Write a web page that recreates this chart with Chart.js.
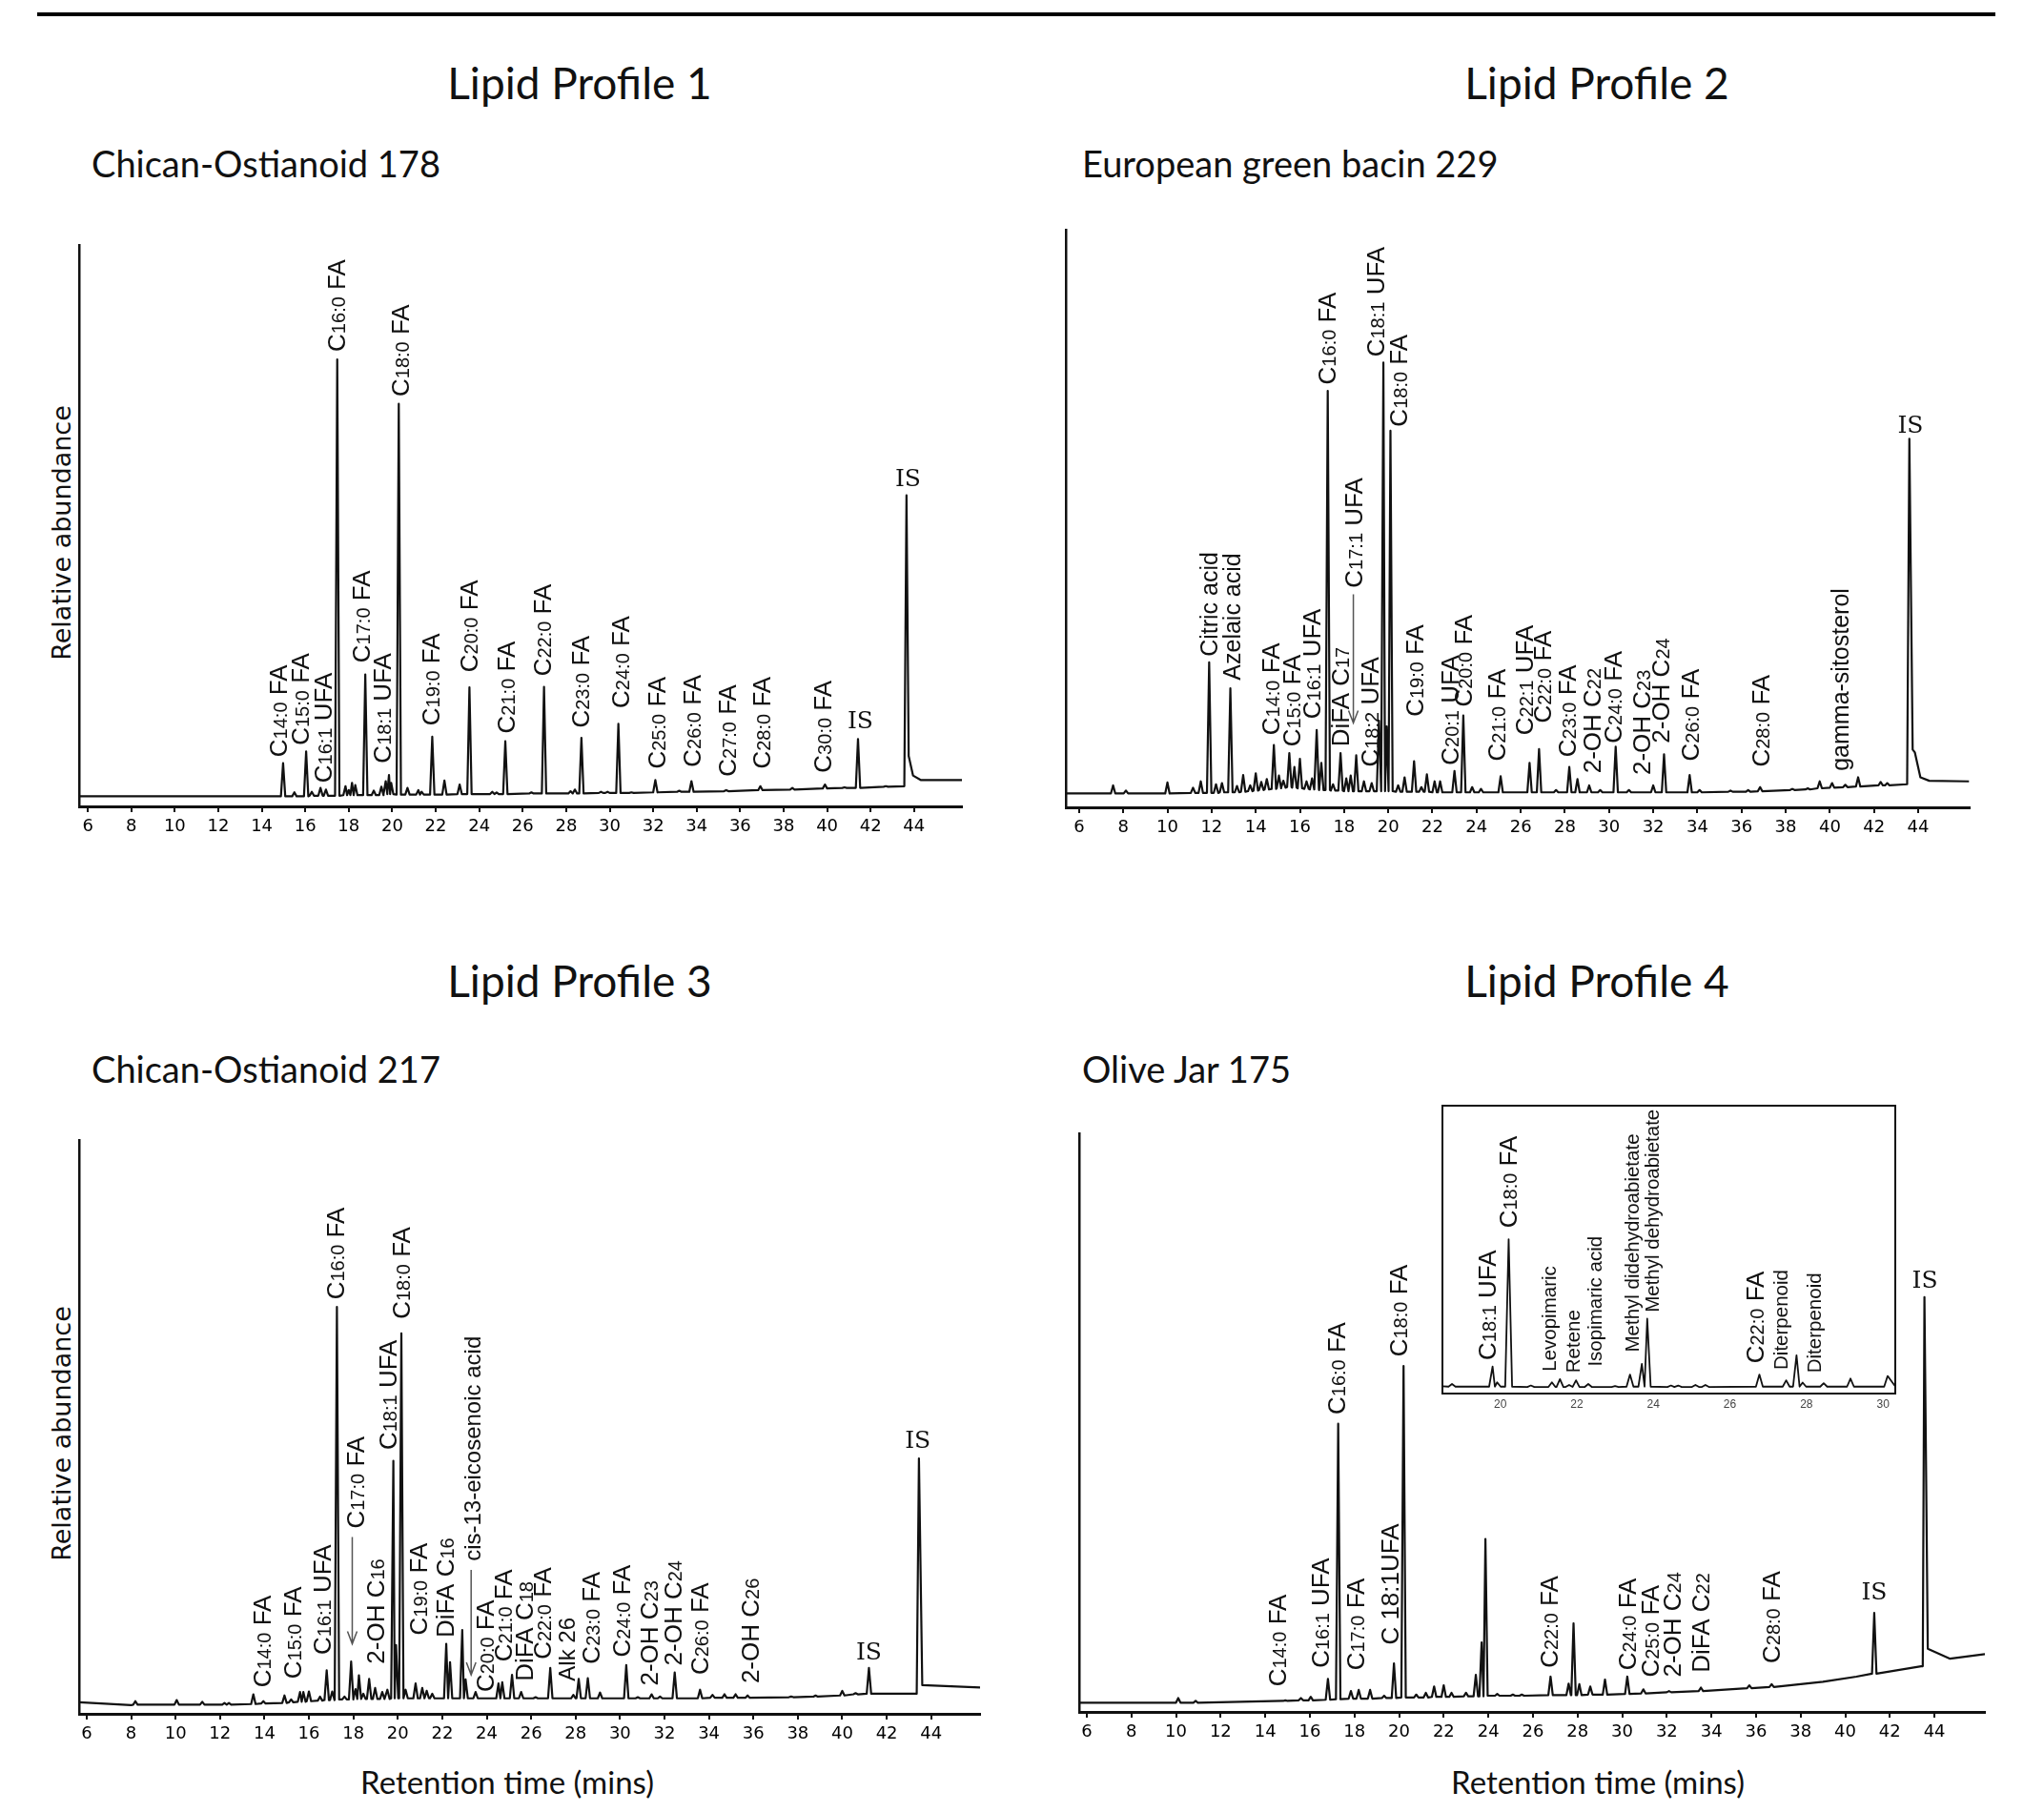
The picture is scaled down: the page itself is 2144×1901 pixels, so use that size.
<!DOCTYPE html>
<html>
<head>
<meta charset="utf-8">
<script src="https://cdn.jsdelivr.net/npm/chart.js@4.4.1/dist/chart.umd.min.js"></script>
<style>
body { margin: 0; background: #fff; }
#page { position: relative; width: 2144px; height: 1901px; background: #fff; overflow: hidden; color: #111; }
.t { position: absolute; white-space: nowrap; line-height: 1; }
.title { font: 46px Lato, sans-serif; transform: translate(-50%, -50%); }
.sub { font: 38px Lato, sans-serif; transform: translateY(-50%); }
.xt { font: 33px Lato, sans-serif; transform: translate(-50%, -50%); }
.yt { font: 27px "DejaVu Sans", sans-serif; transform: translate(-50%, -50%) rotate(-90deg); }
canvas { position: absolute; }
</style>
</head>
<body>
<div id="page">
  <div style="position:absolute;left:39px;top:13px;width:2054px;height:4px;background:#000"></div>
  <div class="t title" style="left:608px;top:86px">Lipid Profile 1</div>
  <div class="t title" style="left:1675px;top:86px">Lipid Profile 2</div>
  <div class="t title" style="left:608px;top:1028px">Lipid Profile 3</div>
  <div class="t title" style="left:1675px;top:1028px">Lipid Profile 4</div>
  <div class="t sub" style="left:96px;top:171px">Chican-Ostianoid 178</div>
  <div class="t sub" style="left:1135px;top:171px">European green bacin 229</div>
  <div class="t sub" style="left:96px;top:1121px">Chican-Ostianoid 217</div>
  <div class="t sub" style="left:1135px;top:1121px">Olive Jar 175</div>
  <div class="t yt" style="left:64px;top:559px">Relative abundance</div>
  <div class="t yt" style="left:64px;top:1504px">Relative abundance</div>
  <div class="t xt" style="left:532px;top:1869px">Retention time (mins)</div>
  <div class="t xt" style="left:1676px;top:1869px">Retention time (mins)</div>
</div>
<script>
// x axis tick labels
const mainTicks = [6, 8, 10, 12, 14, 16, 18, 20, 22, 24, 26, 28, 30, 32, 34, 36, 38, 40, 42, 44];
const insetTicks = [20, 22, 24, 26, 28, 30];

// ---- Lipid Profile 1 : Chican-Ostianoid 178 ----
const p1Time = [5.6, 14.98, 15.5, 16.04, 16.3, 16.7, 16.95, 17.47, 17.85, 18.0, 18.15, 18.3, 18.76, 19.15, 19.5, 19.7, 19.85, 19.95, 20.3, 20.7, 21.2, 21.35, 21.84, 22.4, 23.1, 23.55, 24.6, 24.8, 25.2, 26.4, 26.98, 28.2, 28.4, 28.7, 29.6, 29.9, 30.4, 31.0, 32.1, 33.2, 33.76, 35.36, 36.93, 38.4, 39.9, 40.8, 41.42, 42.7, 43.65, 43.75, 43.95, 44.3, 46.2];
const p1Top = [1.8, 7.7, 2.5, 9.8, 2.6, 3.3, 3.0, 79.6, 3.6, 2.9, 4.2, 3.8, 23.5, 2.8, 3.5, 4.5, 5.6, 4.2, 71.7, 3.3, 2.9, 2.6, 12.4, 4.6, 3.9, 21.2, 2.6, 2.5, 11.6, 2.5, 21.3, 2.7, 3.0, 12.2, 2.6, 2.6, 14.7, 2.5, 4.7, 2.8, 4.5, 2.9, 3.6, 3.3, 3.9, 3.4, 12.0, 3.6, 55.4, 9.0, 5.5, 4.7, 4.7];
const p1Base = [1.8, 1.8, 1.8, 1.8, 1.9, 1.9, 1.9, 1.9, 2.0, 2.0, 2.0, 2.0, 2.0, 2.0, 2.0, 2.2, 2.5, 2.2, 2.1, 2.1, 2.1, 2.1, 2.1, 2.1, 2.2, 2.2, 2.2, 2.2, 2.2, 2.3, 2.3, 2.3, 2.3, 2.3, 2.4, 2.4, 2.4, 2.4, 2.5, 2.6, 2.6, 2.7, 2.9, 3.0, 3.2, 3.3, 3.3, 3.5, 3.6, 9.0, 5.5, 4.7, 4.7];
const p1LabelText = ['C14:0 FA', 'C15:0 FA', 'C16:1 UFA', 'C16:0 FA', 'C17:0 FA', 'C18:1 UFA', 'C18:0 FA', 'C19:0 FA', 'C20:0 FA', 'C21:0 FA', 'C22:0 FA', 'C23:0 FA', 'C24:0 FA', 'C25:0 FA', 'C26:0 FA', 'C27:0 FA', 'C28:0 FA', 'C30:0 FA'];
const p1LabelT = [14.75, 15.76, 16.8, 17.41, 18.56, 19.54, 20.36, 21.76, 23.53, 25.21, 26.89, 28.63, 30.48, 32.14, 33.76, 35.39, 36.99, 39.79];
const p1LabelY = [8.8, 10.9, 4.2, 81, 25.6, 7.7, 73, 14.4, 23.9, 13, 23.2, 14, 17.5, 6.7, 7, 5.3, 6.7, 6];
const p1IsT = [41.53, 43.72];
const p1IsY = [14, 57];

// ---- Lipid Profile 2 : European green bacin 229 ----
const p2Time = [5.4, 7.54, 8.12, 10.0, 11.16, 11.51, 11.89, 12.2, 12.47, 12.85, 13.15, 13.43, 13.75, 14.0, 14.25, 14.5, 14.82, 15.05, 15.25, 15.52, 15.75, 16.0, 16.3, 16.55, 16.76, 16.97, 17.26, 17.5, 17.84, 18.1, 18.3, 18.55, 18.9, 19.25, 19.58, 19.78, 19.93, 20.1, 20.45, 20.74, 21.17, 21.5, 21.75, 22.1, 22.35, 23.0, 23.4, 23.8, 24.2, 25.09, 26.4, 26.83, 27.6, 28.2, 28.57, 29.1, 29.6, 30.3, 30.9, 32.0, 32.49, 33.65, 34.1, 35.5, 36.3, 36.84, 38.3, 39.0, 39.54, 40.1, 40.7, 41.28, 42.3, 42.6, 43.6, 43.75, 43.85, 44.1, 44.5, 46.3];
const p2Top = [2.4, 3.8, 2.9, 4.3, 3.4, 4.5, 25.1, 4.0, 4.2, 20.6, 3.7, 5.6, 3.8, 5.9, 4.4, 4.9, 10.8, 5.5, 4.6, 9.4, 7.0, 8.4, 4.5, 5.0, 13.4, 7.7, 72.1, 4.0, 9.4, 5.0, 5.5, 9.0, 4.5, 4.2, 15.0, 77.0, 14.0, 65.2, 3.8, 5.2, 8.0, 3.5, 5.7, 4.5, 4.5, 6.3, 15.9, 3.5, 3.2, 5.4, 7.7, 10.1, 3.0, 7.0, 4.9, 3.8, 3.0, 10.5, 3.0, 3.8, 9.2, 5.6, 3.0, 2.9, 3.0, 3.5, 3.2, 3.3, 4.5, 4.2, 3.9, 5.2, 4.4, 4.2, 63.8, 10.0, 9.5, 5.2, 4.6, 4.5];
const p2Base = [2.4, 2.4, 2.4, 2.4, 2.5, 2.5, 2.5, 2.5, 2.6, 2.6, 2.6, 2.7, 2.8, 2.9, 3.0, 3.1, 3.2, 3.3, 3.4, 3.5, 3.4, 3.3, 3.2, 3.1, 3.1, 3.0, 3.0, 2.9, 2.9, 2.8, 2.8, 2.8, 2.8, 2.8, 2.8, 2.8, 2.8, 2.8, 2.7, 2.7, 2.7, 2.7, 2.7, 2.6, 2.6, 2.6, 2.6, 2.6, 2.6, 2.6, 2.6, 2.6, 2.6, 2.6, 2.6, 2.6, 2.6, 2.6, 2.6, 2.6, 2.6, 2.6, 2.6, 2.7, 2.7, 2.8, 3.0, 3.1, 3.3, 3.4, 3.5, 3.6, 3.8, 3.8, 4.0, 10.0, 9.5, 5.2, 4.6, 4.5];
const p2LabelText = ['Citric acid', 'Azelaic acid', 'C14:0 FA', 'C15:0 FA', 'C16:1 UFA', 'C16:0 FA', 'DiFA C17', 'C17:1 UFA', 'C18:2 UFA', 'C18:1 UFA', 'C18:0 FA', 'C19:0 FA', 'C20:1 UFA', 'C20:0 FA', 'C21:0 FA', 'C22:1 UFA', 'C22:0 FA', 'C23:0 FA', '2-OH C22', 'C24:0 FA', '2-OH C23', '2-OH C24', 'C26:0 FA', 'C28:0 FA', 'gamma-sitosterol'];
const p2LabelT = [11.89, 12.9, 14.65, 15.6, 16.53, 17.2, 17.84, 18.42, 19.14, 19.43, 20.45, 21.17, 22.77, 23.4, 24.9, 26.16, 26.97, 28.1, 29.2, 30.17, 31.47, 32.34, 33.65, 36.84, 40.46];
const p2LabelY = [26.1, 22, 12.5, 10.5, 15.3, 73.2, 10.5, 38, 7, 78, 65.9, 15.7, 7.3, 17.4, 8, 12.5, 14.6, 8.7, 5.9, 11.1, 5.6, 11.1, 8, 7, 6.3];
const p2IsT = [43.65];
const p2IsY = [64.8];
const p2ArrowT = [18.42];
const p2ArrowFrom = [36.9];
const p2ArrowTo = [14.6];

// ---- Lipid Profile 3 : Chican-Ostianoid 217 ----
const p3Time = [5.66, 8.0, 8.19, 10.05, 11.2, 12.2, 12.4, 13.5, 13.95, 14.9, 15.2, 15.6, 15.75, 16.0, 16.5, 16.8, 17.05, 17.26, 17.6, 17.9, 18.1, 18.25, 18.45, 18.71, 18.98, 19.3, 19.53, 19.8, 19.92, 20.16, 20.35, 20.8, 21.1, 21.3, 21.55, 22.18, 22.35, 22.9, 23.05, 23.5, 24.53, 24.7, 25.14, 25.55, 26.2, 26.86, 27.9, 28.14, 28.55, 29.1, 30.28, 30.8, 31.42, 31.8, 32.46, 33.6, 34.16, 34.7, 35.2, 35.74, 37.7, 38.8, 40.0, 40.6, 41.2, 43.45, 43.6, 46.2];
const p3Top = [2.0, 1.5, 2.2, 2.4, 2.1, 1.9, 1.9, 3.4, 2.2, 3.2, 2.5, 3.8, 3.8, 3.9, 3.0, 7.6, 3.9, 70.9, 3.0, 9.1, 4.3, 6.7, 3.5, 6.1, 4.5, 3.8, 4.2, 44.1, 12.0, 66.3, 4.2, 5.3, 4.5, 4.0, 3.5, 12.2, 9.0, 14.6, 6.0, 3.8, 5.3, 5.5, 6.8, 3.8, 2.9, 8.0, 3.3, 6.1, 6.2, 3.7, 8.5, 2.9, 3.4, 3.0, 7.2, 4.2, 3.3, 3.4, 3.4, 3.2, 3.0, 3.2, 4.0, 3.6, 8.0, 44.5, 5.0, 4.6];
const p3Base = [2.0, 1.5, 1.6, 1.6, 1.6, 1.6, 1.6, 1.7, 1.8, 1.9, 2.0, 2.1, 2.1, 2.2, 2.3, 2.4, 2.4, 2.5, 2.5, 2.5, 2.6, 2.6, 2.6, 2.6, 2.6, 2.6, 2.6, 2.7, 2.7, 2.7, 2.7, 2.7, 2.7, 2.7, 2.7, 2.7, 2.7, 2.7, 2.7, 2.7, 2.7, 2.7, 2.7, 2.7, 2.7, 2.7, 2.7, 2.7, 2.7, 2.7, 2.7, 2.7, 2.7, 2.7, 2.7, 2.7, 2.8, 2.8, 2.8, 2.8, 2.9, 3.0, 3.2, 3.4, 3.5, 3.5, 5.0, 4.6];
const p3LabelText = ['C14:0 FA', 'C15:0 FA', 'C16:1 UFA', 'C16:0 FA', 'C17:0 FA', '2-OH C16', 'C18:1 UFA', 'C18:0 FA', 'C19:0 FA', 'DiFA C16', 'cis-13-eicosenoic acid', 'C20:0 FA', 'C21:0 FA', 'DiFA C18', 'C22:0 FA', 'Alk 26', 'C23:0 FA', 'C24:0 FA', '2-OH C23', '2-OH C24', 'C26:0 FA', '2-OH C26'];
const p3LabelT = [13.87, 15.24, 16.6, 17.2, 18.08, 18.98, 19.53, 20.16, 20.9, 22.13, 23.36, 23.9, 24.73, 25.68, 26.5, 27.6, 28.7, 30.06, 31.29, 32.38, 33.56, 35.85];
const p3LabelY = [4.6, 6.1, 10.3, 72.2, 32.3, 8.7, 46, 68.8, 13.7, 13.3, 26.6, 3.8, 9.1, 5.7, 9.5, 5.7, 8.7, 9.9, 4.9, 8.4, 6.8, 5.3];
const p3IsT = [41.2, 43.4];
const p3IsY = [9.5, 46.4];
const p3ArrowT = [17.95, 23.3];
const p3ArrowFrom = [30.8, 25.1];
const p3ArrowTo = [12.2, 6.8];

// ---- Lipid Profile 4 : Olive Jar 175 ----
const p4Time = [5.66, 10.1, 10.88, 14.9, 15.6, 16.04, 16.81, 17.27, 17.84, 18.19, 18.7, 19.33, 19.77, 20.2, 20.77, 21.2, 21.57, 22.0, 22.35, 23.0, 23.44, 23.7, 23.87, 24.4, 25.1, 25.5, 26.79, 27.6, 27.82, 28.08, 28.57, 29.23, 30.23, 30.95, 32.1, 33.53, 35.7, 36.7, 39.0, 40.5, 41.3, 43.4, 43.55, 43.7, 44.7, 46.26];
const p4Top = [1.6, 2.4, 1.9, 2.0, 2.4, 2.6, 5.7, 49.8, 3.6, 3.8, 3.8, 2.8, 8.4, 59.8, 3.0, 3.3, 4.4, 4.6, 3.3, 3.3, 6.4, 12.0, 29.9, 3.1, 3.0, 3.0, 6.1, 4.9, 15.3, 4.8, 4.4, 5.6, 6.1, 3.9, 3.6, 4.2, 4.6, 4.8, 5.2, 6.1, 17.1, 7.9, 71.7, 10.9, 9.2, 10.0];
const p4Base = [1.6, 1.6, 1.6, 1.9, 2.0, 2.0, 2.1, 2.2, 2.3, 2.3, 2.3, 2.4, 2.4, 2.5, 2.5, 2.5, 2.6, 2.6, 2.6, 2.7, 2.7, 2.7, 2.8, 2.8, 2.8, 2.8, 2.9, 2.9, 2.9, 2.9, 3.0, 3.0, 3.1, 3.2, 3.4, 3.6, 4.1, 4.3, 5.2, 6.1, 6.6, 7.9, 7.9, 10.9, 9.2, 10.0];
const p4LabelText = ['C14:0 FA', 'C16:1 UFA', 'C16:0 FA', 'C17:0 FA', 'C 18:1UFA', 'C18:0 FA', 'C22:0 FA', 'C24:0 FA', 'C25:0 FA', '2-OH C24', 'DiFA C22', 'C28:0 FA'];
const p4LabelT = [14.55, 16.47, 17.18, 18.05, 19.56, 19.97, 26.7, 30.23, 31.24, 32.24, 33.53, 36.69];
const p4LabelY = [4.4, 7.6, 51.4, 7.2, 11.6, 61.4, 7.6, 7.2, 6.0, 6.0, 6.8, 8.4];
const p4IsT = [41.3, 43.57];
const p4IsY = [19.5, 73.3];

// ---- inset of profile 4 (18.5 - 30.3 min) ----
const inTime = [18.49, 18.74, 19.8, 19.92, 20.22, 20.8, 21.35, 21.56, 21.8, 21.98, 22.3, 23.0, 23.39, 23.7, 23.84, 24.46, 24.65, 25.1, 25.36, 26.77, 27.47, 27.74, 27.9, 28.45, 29.15, 30.12, 30.32];
const inTop = [2.5, 3.3, 9.4, 3.9, 53.6, 2.8, 3.9, 5.0, 3.0, 4.6, 3.3, 2.6, 6.6, 10.3, 26.0, 2.8, 2.8, 3.0, 3.0, 6.6, 4.6, 13.3, 3.8, 3.6, 5.2, 6.1, 2.5];
const inBase = [2.5, 2.4, 2.4, 2.4, 2.4, 2.3, 2.3, 2.3, 2.3, 2.3, 2.3, 2.3, 2.4, 2.4, 2.4, 2.3, 2.3, 2.3, 2.3, 2.4, 2.4, 2.4, 2.4, 2.4, 2.4, 2.4, 2.5];
const inLabelText = ['C18:1 UFA', 'C18:0 FA', 'Levopimaric', 'Retene', 'Isopimaric acid', 'Methyl didehydroabietate', 'Methyl dehydroabietate', 'C22:0 FA', 'Diterpenoid', 'Diterpenoid'];
const inLabelT = [19.65, 20.19, 21.27, 21.89, 22.47, 23.43, 23.97, 26.66, 27.33, 28.2];
const inLabelY = [11.6, 57.5, 7.7, 7.2, 9.4, 14.4, 28.2, 10.5, 8.3, 7.2];

// peak list -> trace points (feet on the local baseline)
function buildTrace(time, top, base, w) {
  const pts = [];
  for (let i = 0; i < time.length; i++) {
    const t = time[i];
    if (top[i] === base[i]) { pts.push({x: t, y: top[i]}); continue; }
    const prev = i > 0 ? time[i - 1] : -Infinity;
    const next = i < time.length - 1 ? time[i + 1] : Infinity;
    pts.push({x: Math.max(t - w, (prev + t) / 2), y: base[i]});
    pts.push({x: t, y: top[i]});
    const tailNext = i < time.length - 1 && top[i + 1] === base[i + 1] && next - t < 0.35;
    if (!tailNext) pts.push({x: Math.min(t + w, (t + next) / 2), y: base[i]});
  }
  return pts;
}

// rotated label, carbon numbers in small digits
function drawRich(ctx, s, size) {
  const re = /C(\d+(?::\d+)?)/g;
  const parts = [];
  let last = 0, m;
  while ((m = re.exec(s))) {
    if (m.index > last) parts.push([s.slice(last, m.index), false]);
    parts.push(['C', false]);
    parts.push([m[1], true]);
    last = re.lastIndex;
  }
  if (last < s.length) parts.push([s.slice(last), false]);
  let x = 0;
  const base = size * 0.36;
  parts.forEach(([txt, sub]) => {
    const fs = sub ? size * 0.77 : size;
    ctx.font = fs + 'px "Liberation Sans"';
    ctx.fillText(txt, x, base);
    x += ctx.measureText(txt).width;
  });
}

function notes(n) {
  return {
    id: 'notes',
    beforeDraw(chart) {
      if (!n.frame) return;
      const a = chart.chartArea, ctx = chart.ctx;
      ctx.save();
      ctx.fillStyle = '#fff';
      ctx.fillRect(a.left, a.top, a.right - a.left, a.bottom - a.top);
      ctx.restore();
    },
    afterDatasetsDraw(chart) {
      const {ctx, scales: {x, y}} = chart;
      ctx.save();
      ctx.fillStyle = '#111';
      ctx.textBaseline = 'alphabetic';
      ctx.textAlign = 'left';
      n.text.forEach((s, i) => {
        ctx.save();
        ctx.translate(x.getPixelForValue(n.t[i]), y.getPixelForValue(n.y[i]));
        ctx.rotate(-Math.PI / 2);
        drawRich(ctx, s, /C\s?\d/.test(s) ? n.cSize : n.nameSize);
        ctx.restore();
      });
      ctx.font = '25px "DejaVu Serif"';
      ctx.textAlign = 'center';
      (n.isT || []).forEach((t, i) => {
        ctx.fillText('IS', x.getPixelForValue(t), y.getPixelForValue(n.isY[i]));
      });
      ctx.strokeStyle = '#555';
      ctx.lineWidth = 1.5;
      (n.arT || []).forEach((t, i) => {
        const px = x.getPixelForValue(t);
        const y1 = y.getPixelForValue(n.arFrom[i]);
        const y2 = y.getPixelForValue(n.arTo[i]);
        ctx.beginPath();
        ctx.moveTo(px, y1); ctx.lineTo(px, y2);
        ctx.moveTo(px - 5, y2 - 13); ctx.lineTo(px, y2); ctx.lineTo(px + 5, y2 - 13);
        ctx.stroke();
      });
      if (n.frame) {
        const a = chart.chartArea;
        ctx.strokeStyle = '#111';
        ctx.lineWidth = 2;
        ctx.strokeRect(a.left, a.top, a.right - a.left, a.bottom - a.top);
      }
      ctx.restore();
    }
  };
}

function panel(box, xr, pts, n, inset) {
  const pad = inset ? 6 : 10, padTop = inset ? 6 : 30, axisH = inset ? 22 : 50;
  const cv = document.createElement('canvas');
  const w = box.R - box.L + pad * 2, h = box.B - box.T + padTop + axisH;
  cv.width = w; cv.height = h;
  cv.style.left = (box.L - pad) + 'px';
  cv.style.top = (box.T - padTop) + 'px';
  cv.style.width = w + 'px'; cv.style.height = h + 'px';
  document.getElementById('page').appendChild(cv);
  const ticks = inset ? insetTicks : mainTicks;
  new Chart(cv, {
    type: 'line',
    data: { datasets: [{ data: pts, borderColor: '#111', borderWidth: inset ? 1.8 : 2.2, borderJoinStyle: 'round', pointRadius: 0, tension: 0, fill: false }] },
    options: {
      animation: false, responsive: false, maintainAspectRatio: false,
      layout: { padding: { left: pad, right: pad, top: padTop, bottom: 0 } },
      plugins: { legend: { display: false }, tooltip: { enabled: false } },
      scales: {
        x: {
          type: 'linear', min: xr[0], max: xr[1],
          afterBuildTicks: s => { s.ticks = ticks.map(v => ({ value: v })); },
          afterFit: s => { s.height = axisH; },
          grid: { drawOnChartArea: false, drawTicks: !inset, tickLength: 6, color: '#111', lineWidth: 2 },
          border: { display: !inset, color: '#111', width: 3 },
          ticks: inset
            ? { font: { family: 'Liberation Sans', size: 12 }, color: '#444', padding: 4, maxRotation: 0, autoSkip: false }
            : { font: { family: 'DejaVu Sans', size: 18 }, color: '#000', padding: 5, maxRotation: 0, autoSkip: false }
        },
        y: {
          display: !inset, min: 0, max: 100,
          afterFit: s => { s.width = 0; },
          ticks: { display: false },
          grid: { drawOnChartArea: false, drawTicks: false },
          border: { color: '#111', width: 2.5 }
        }
      }
    },
    plugins: [notes(n)]
  });
}

panel({ L: 83, T: 257, B: 846, R: 1009 }, [5.6, 46.2],
  buildTrace(p1Time, p1Top, p1Base, 0.1),
  { text: p1LabelText, t: p1LabelT, y: p1LabelY, isT: p1IsT, isY: p1IsY, cSize: 26, nameSize: 25 });

panel({ L: 1118, T: 241, B: 847, R: 2066 }, [5.4, 46.33],
  buildTrace(p2Time, p2Top, p2Base, 0.1),
  { text: p2LabelText, t: p2LabelT, y: p2LabelY, isT: p2IsT, isY: p2IsY, arT: p2ArrowT, arFrom: p2ArrowFrom, arTo: p2ArrowTo, cSize: 26, nameSize: 25 });

panel({ L: 83, T: 1196, B: 1798, R: 1028 }, [5.66, 46.2],
  buildTrace(p3Time, p3Top, p3Base, 0.1),
  { text: p3LabelText, t: p3LabelT, y: p3LabelY, isT: p3IsT, isY: p3IsY, arT: p3ArrowT, arFrom: p3ArrowFrom, arTo: p3ArrowTo, cSize: 26, nameSize: 24 });

panel({ L: 1132, T: 1189, B: 1796, R: 2082 }, [5.66, 46.26],
  buildTrace(p4Time, p4Top, p4Base, 0.1),
  { text: p4LabelText, t: p4LabelT, y: p4LabelY, isT: p4IsT, isY: p4IsY, cSize: 26, nameSize: 25 });

panel({ L: 1513, T: 1160, B: 1462, R: 1988 }, [18.49, 30.32],
  buildTrace(inTime, inTop, inBase, 0.09),
  { text: inLabelText, t: inLabelT, y: inLabelY, cSize: 26, nameSize: 20.5, frame: true }, true);
</script>
</body>
</html>
